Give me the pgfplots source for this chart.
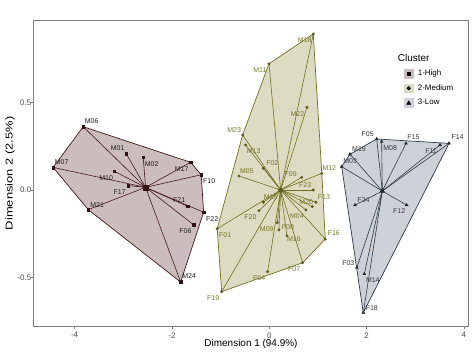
\documentclass[border=0pt]{standalone}
\usepackage{fontspec}
\setmainfont{Liberation Sans}
\newfontfamily\ylabfont[FakeStretch=1.3]{Liberation Sans}
\usepackage{pgfplots}
\usepackage{pgfplotstable}
\pgfplotsset{compat=1.18}
\definecolor{hiLine}{RGB}{70,25,28}
\definecolor{hiFill}{RGB}{203,189,189}
\definecolor{hiText}{RGB}{35,30,30}
\definecolor{meLine}{RGB}{112,112,35}
\definecolor{meFill}{RGB}{221,219,194}
\definecolor{meText}{RGB}{118,118,42}
\definecolor{loLine}{RGB}{45,58,72}
\definecolor{loFill}{RGB}{206,210,216}
\definecolor{loText}{RGB}{55,55,60}
\definecolor{axgray}{RGB}{125,125,125}
\definecolor{tickgray}{RGB}{77,77,77}

\pgfplotstableread{
x y lab dx dy
-3.823 0.361 M06 8.5 6
-2.939 0.207 M01 -8.5 5.5
-2.590 0.187 M02 8.5 -6.5
-4.440 0.129 M07 8.5 5
-1.616 0.158 M17 -9 -6.5
-1.398 0.087 F10 8 -6.5
-3.186 0.107 M10 -8 -6.5
-2.898 0.025 F17 -8.5 -6
-1.677 -0.093 F21 -8.5 6
-3.720 -0.112 M21 9 5
-1.348 -0.127 F22 8.5 -6.5
-1.548 -0.200 F06 -8.5 -6.5
-1.821 -0.525 M24 8.5 5.5
}\hipts

\pgfplotstableread{
x y lab dx dy
0.904 0.890 M18 -8.5 -6
-0.006 0.720 M11 -9 -6
0.775 0.472 M22 -9.5 -7
-0.547 0.314 M23 -8.5 5
-0.485 0.257 M13 8 -6.5
-0.123 0.124 F02 9 5.5
-0.623 0.080 M05 8 5
0.666 0.072 F09 -11 3.5
1.080 0.095 M12 7.5 5
0.904 0.000 F23 -8 5
0.960 -0.070 F13 8 5
0.884 -0.095 M20 -6 5
0.754 -0.114 M04 -9 -6
-0.123 -0.070 M15 7.5 5.5
-0.212 -0.118 F20 -8.5 -6
0.164 -0.186 M09 -10.5 -7
0.199 -0.228 F08 9 2.5
0.364 -0.262 M16 7 -3.5
1.151 -0.280 F16 8.5 6
-1.069 -0.221 F01 8 -6
0.687 -0.415 F07 -8.5 -6
-0.033 -0.466 F04 -8.5 -6
-0.978 -0.580 F19 -8.5 -6
}\mepts

\pgfplotstableread{
x y lab dx dy
2.208 0.291 F05 -9 4.5
2.310 0.276 M08 8.5 -6.5
2.810 0.266 F15 7.5 6
3.694 0.266 F14 8.5 6
3.509 0.257 F11 -9 -6.5
1.659 0.204 M19 9 5
1.488 0.133 M03 8.5 5.5
1.762 -0.086 F24 8.5 5.5
2.824 -0.086 F12 -7.5 -6
1.800 -0.443 F03 -8.5 5
1.953 -0.479 M14 8.5 -6
1.932 -0.700 F18 8.5 5
}\lopts

\pgfplotsset{
  ptlabels/.style={
    nodes near coords, point meta=explicit symbolic,
    visualization depends on={\thisrow{dx} \as \ldx},
    visualization depends on={\thisrow{dy} \as \ldy},
    every node near coord/.append style={anchor=center, xshift=\ldx bp, yshift=\ldy bp,
      inner sep=0pt, font=\fontsize{7}{8}\selectfont, text=#1},
  },
}

\begin{document}
\begin{tikzpicture}
\useasboundingbox (0,0) rectangle (474bp,355bp);
\begin{axis}[
  at={(33.7bp,29bp)}, anchor=south west,
  scale only axis, width=434.6bp, height=305.3bp,
  xmin=-4.84, xmax=4.09, ymin=-0.776, ymax=0.966,
  axis x line*=bottom, axis y line*=left,
  axis line style={axgray, line width=0.8bp, -},
  after end axis/.code={\draw[axgray, line width=0.8bp] (rel axis cs:0,0) rectangle (rel axis cs:1,1);},
  xtick={-4,-2,0,2,4}, ytick={-0.5,0,0.5},
  tick align=outside, major tick length=2.75bp,
  tick style={axgray, line width=0.8bp},
  /pgf/number format/assume math mode=true,
  yticklabel={\pgfmathprintnumber[fixed, fixed zerofill, precision=1]{\tick}},
  tick label style={font=\fontsize{8}{9}\selectfont, text=tickgray, inner sep=1bp},
  xticklabel style={yshift=-2.5bp},
  yticklabel style={xshift=1.5bp},
  xlabel={Dimension 1 (94.9\%)},
  ylabel={\ylabfont Dimension 2 (2.5\%)},
  label style={font=\fontsize{10}{12}\selectfont},
  xlabel style={at={(axis description cs:0.5,-0.06)}, anchor=center},
  ylabel style={at={(axis description cs:-0.0545,0.5)}, anchor=center},
  legend style={at={(axis cs:2.77,0.785)}, anchor=north west, draw=none, fill=none,
    inner sep=0pt, row sep=5bp, column sep=3.5bp,
    font=\fontsize{8}{9}\selectfont, nodes={inner sep=1.2bp}},
  legend cell align=left,
]
% hulls
\addplot[forget plot, fill=hiFill, draw=hiLine, line width=0.7bp, line join=round] table {
-3.823 0.361
-1.616 0.158
-1.398 0.087
-1.348 -0.127
-1.821 -0.525
-3.720 -0.112
-4.440 0.129
-3.823 0.361
};
\addplot[forget plot, fill=meFill, draw=meLine, line width=0.7bp, line join=round] table {
0.904 0.890
1.080 0.095
1.151 -0.280
0.687 -0.415
-0.978 -0.580
-1.069 -0.221
-0.547 0.314
-0.006 0.720
0.904 0.890
};
\addplot[forget plot, fill=loFill, draw=loLine, line width=0.7bp, line join=round] table {
1.932 -0.700
1.488 0.133
1.659 0.204
2.208 0.291
3.694 0.266
1.932 -0.700
};
% spokes
\addplot[forget plot, hiLine, line width=0.6bp, no markers,
  quiver={u=-2.541-\thisrow{x}, v=0.015-\thisrow{y}}] table[x=x,y=y] {\hipts};
\addplot[forget plot, meLine, line width=0.6bp, no markers,
  quiver={u=0.234-\thisrow{x}, v=0.0-\thisrow{y}}] table[x=x,y=y] {\mepts};
\addplot[forget plot, loLine, line width=0.6bp, no markers,
  quiver={u=2.323-\thisrow{x}, v=-0.006-\thisrow{y}}] table[x=x,y=y] {\lopts};
% points + labels
\addplot[forget plot, only marks, mark=square*, mark size=1.35bp, color=hiLine!70!black,
  ptlabels=hiText] table[x=x,y=y,meta=lab] {\hipts};
\addplot[forget plot, only marks, mark=*, mark size=1.25bp, color=meLine!80!black,
  ptlabels=meText] table[x=x,y=y,meta=lab] {\mepts};
\addplot[forget plot, only marks, mark=triangle*, mark size=1.7bp, color=loLine!70!black,
  ptlabels=loText] table[x=x,y=y,meta=lab] {\lopts};
% centroids
\addplot[forget plot, only marks, mark=square*, mark size=2.4bp, color=hiLine!70!black] coordinates {(-2.541,0.015)};
\addplot[forget plot, only marks, mark=*, mark size=2.2bp, color=meLine!80!black] coordinates {(0.234,0.0)};
\addplot[forget plot, only marks, mark=triangle*, mark size=2.8bp, color=loLine!70!black] coordinates {(2.323,-0.006)};
% legend
\addlegendimage{empty legend}
\addlegendentry{\hspace{-20bp}\fontsize{10}{12}\selectfont Cluster}
\addlegendimage{legend image code/.code={\fill[hiFill] (0bp,-4.25bp) rectangle (8.5bp,4.25bp); \fill[black] (2.6bp,-1.6bp) rectangle (5.9bp,1.7bp);}}
\addlegendentry{1-High}
\addlegendimage{legend image code/.code={\fill[meFill] (0bp,-4.25bp) rectangle (8.5bp,4.25bp); \fill[black] (4.25bp,0bp) circle (1.8bp);}}
\addlegendentry{2-Medium}
\addlegendimage{legend image code/.code={\fill[loFill] (0bp,-4.25bp) rectangle (8.5bp,4.25bp); \fill[black] (4.25bp,2bp) -- (2.2bp,-1.6bp) -- (6.3bp,-1.6bp) -- cycle;}}
\addlegendentry{3-Low}
\end{axis}
\end{tikzpicture}
\end{document}
